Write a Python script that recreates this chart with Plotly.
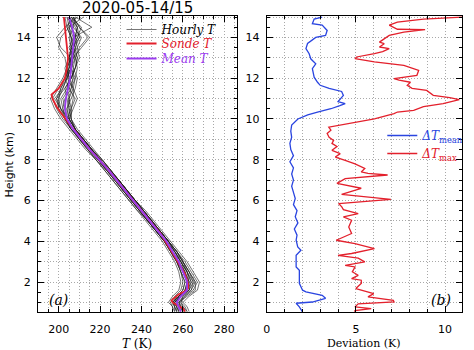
import plotly.graph_objects as go

# ---------------- data: panel (a) ----------------
heights = [0.55, 0.8, 1.0, 1.3, 1.6, 2.0, 2.5, 3.0, 3.5, 4.0, 4.5, 5.0, 5.5, 6.0, 6.5, 7.0,
           7.5, 8.0, 8.5, 9.0, 9.5, 10.0, 10.5, 11.0, 11.5, 12.0, 12.5, 13.0, 13.5, 14.0, 14.5, 15.0]

hourly_01 = [257,256,255,258,263,265,263,260,257,253,249,245,241,237,233,229,225,220,216,212,208,205,201,199,203,206,208,209,207,210,209,207]
hourly_02 = [260,259,258,261,265,267,264,261,257,253,249,245,240,236,232,228,224,220,215,211,208,206,206,207,207,204,203,205,206,206,204,203]
hourly_03 = [256,255,254,256,259,260,259,257,254,251,247,243,239,235,231,227,223,219,214,210,206,202,199,197,200,203,205,207,211,215,210,207]
hourly_04 = [262,261,259,260,263,264,262,259,256,252,248,244,240,236,233,229,225,221,216,212,208,205,204,205,206,208,209,208,206,205,207,208]
hourly_05 = [258,257,256,257,260,261,259,257,254,251,247,243,239,235,231,228,224,219,215,210,206,203,200,200,202,204,205,205,207,209,211,206]
hourly_06 = [261,260,258,262,266,266,263,260,256,253,249,245,241,237,233,229,224,220,216,212,208,205,207,209,207,205,204,206,208,207,205,204]
hourly_07 = [255,255,253,255,258,259,258,256,253,250,246,242,238,234,230,226,222,218,213,209,205,201,198,196,199,202,204,206,201,199,203,209]
hourly_08 = [259,258,257,259,262,263,261,258,255,252,248,244,240,236,232,228,224,219,215,211,207,204,203,202,205,207,207,208,210,214,210,207]
hourly_09 = [263,262,260,263,267,268,265,262,258,254,250,246,242,237,233,229,225,221,217,213,209,206,205,204,203,206,208,210,209,208,206,205]
hourly_10 = [257,256,256,259,262,262,260,257,254,251,247,243,238,234,230,226,222,218,214,210,206,203,202,201,204,205,204,203,200,201,205,212]
hourly_11 = [260,258,257,258,261,262,261,259,256,253,249,244,240,236,232,228,223,219,215,211,207,204,204,206,208,209,207,205,206,208,209,206]
hourly_12 = [258,257,255,258,262,264,262,259,255,252,248,244,240,236,232,228,224,220,215,211,207,203,201,200,201,203,206,207,208,210,208,205]
hourly_13 = [261,259,258,260,264,265,262,259,256,252,248,245,241,237,232,228,224,220,216,212,207,204,206,208,205,203,205,206,207,206,205,207]
hourly_14 = [256,256,255,257,260,261,259,257,254,251,247,243,239,235,231,227,223,218,214,210,207,204,201,198,202,204,206,207,205,207,216,208]
hourly_15 = [258,258,256,259,263,263,261,258,255,252,248,244,240,236,232,228,224,220,216,211,207,204,202,203,206,207,206,206,209,211,207,204]
hourly_16 = [260,259,257,258,261,263,262,260,257,253,249,245,241,237,233,229,225,221,216,212,208,205,205,205,204,206,208,209,208,206,204,206]
hourly_17 = [257,257,256,258,261,262,260,258,255,251,247,243,239,235,231,227,223,219,215,211,206,203,200,199,201,204,206,208,206,208,209,205]
hourly_18 = [262,260,259,261,264,266,263,260,257,253,249,245,241,237,233,229,224,220,216,212,208,206,206,205,207,208,206,205,207,209,206,205]

hourly_profiles = [hourly_01, hourly_02, hourly_03, hourly_04, hourly_05, hourly_06,
                   hourly_07, hourly_08, hourly_09, hourly_10, hourly_11, hourly_12,
                   hourly_13, hourly_14, hourly_15, hourly_16, hourly_17, hourly_18]

mean_T = [259.0,258.0,257.0,259.0,262.0,262.0,260.0,258.0,255.0,252.0,248.0,244.0,240.0,236.0,232.0,228.0,
          224.0,219.5,215.0,211.0,207.0,204.0,203.0,203.5,204.5,205.5,206.0,206.5,207.0,207.5,206.5,205.0]

sonde_h = [0.55,0.7,0.85,1.0,1.1,1.25,1.4,1.55,1.7,1.9,2.1,2.4,2.75,3.2,3.6,4.0,4.4,5.0,5.5,6.0,6.5,7.0,
           7.5,8.0,8.5,9.0,9.5,10.0,10.3,10.6,10.8,11.0,11.2,11.5,12.0,12.5,13.0,13.5,14.0,14.5,15.0]
sonde_T = [261,260,257.5,255,254.5,256,258,261,262.5,262.5,262,261,259,256.5,254,251.5,249,244,240,236,232,228,
           224,219.5,215,211,207,203,201,199,198,197,196.5,200,203,204,204.5,204,203.5,203,202.5]

# ---------------- data: panel (b) ----------------
dmean_h = [0.53,0.78,0.96,1.02,1.2,1.35,1.52,1.6,1.94,2.58,2.74,3.31,3.56,3.72,4.05,4.3,4.6,4.9,5.2,5.5,
           5.8,6.1,6.4,6.7,7.0,7.3,7.6,7.9,8.2,8.5,8.8,9.1,9.4,9.7,10.0,10.2,10.35,10.5,10.65,10.75,
           10.85,10.95,11.15,11.35,11.5,11.65,11.8,12.05,12.47,12.7,12.95,13.2,13.45,13.7,14.0,14.1,
           14.34,14.6,14.67,14.9,15.0]
dmean_v = [2.01,1.83,1.65,2.56,3.3,3.11,2.2,2.01,1.83,1.83,1.65,1.65,1.92,1.74,1.65,1.7,1.55,1.75,1.6,1.7,
           1.5,1.6,1.5,1.4,1.5,1.4,1.5,1.3,1.5,1.35,1.3,1.4,1.35,1.4,1.75,2.3,2.9,3.6,4.1,4.4,
           4.0,4.1,4.3,4.2,3.5,3.0,2.85,2.66,2.56,2.75,2.47,2.38,2.2,2.29,2.75,3.3,
           3.39,3.11,2.56,2.66,3.11]

dmax_h = [0.53,0.6,0.7,0.78,0.93,1.02,1.1,1.27,1.43,1.68,1.94,2.09,2.17,2.33,2.5,2.74,2.82,2.99,3.17,3.31,
          3.4,3.64,3.88,4.05,4.38,4.7,5.03,5.2,5.36,5.55,5.69,5.85,6.05,6.3,6.6,6.84,7.07,7.15,7.25,7.33,
          7.4,7.57,7.8,7.97,8.13,8.3,8.46,8.65,8.8,8.95,9.1,9.29,9.45,9.6,9.77,9.93,10.0,10.26,10.34,10.42,
          10.6,10.75,10.95,11.05,11.16,11.4,11.5,11.65,11.8,11.9,11.98,12.14,12.38,12.63,12.8,12.96,13.04,
          13.2,13.3,13.45,13.53,13.69,13.77,14.1,14.26,14.38,14.4,14.6,14.75,14.9,15.0]
dmax_v = [4.95,4.95,5.86,4.95,5.13,7.14,7.1,5.68,6.0,5.0,5.31,5.3,4.76,5.13,4.8,4.95,4.4,5.5,5.13,4.0,
          4.76,6.04,4.95,3.9,4.76,4.6,4.76,4.3,5.13,4.3,4.21,4.03,6.96,4.2,5.3,3.94,4.4,5.5,6.78,5.68,
          5.3,5.5,4.95,4.4,3.85,4.12,3.66,3.94,3.66,3.75,3.5,3.39,3.6,3.48,4.58,5.5,6.04,7.14,7.33,8.24,
          8.79,9.89,10.8,10.26,9.34,8.97,8.15,7.88,8.06,7.42,7.14,8.42,8.52,7.69,6.04,4.95,5.04,
          6.04,6.5,6.87,6.32,6.59,6.32,6.87,7.69,8.88,7.33,6.87,7.33,8.79,11.0]

# ---------------- styling ----------------
RED = "#e3202c"
PURPLE = "#9b3cf0"
BLUE = "#2a45e0"
GRID = "#a8a8a8"
GDASH = "1px,2px"
TICKFONT = dict(family="DejaVu Sans", size=11, color="black")
SERIF = "DejaVu Serif"

fig = go.Figure()

for i, prof in enumerate(hourly_profiles):
    fig.add_trace(go.Scatter(
        x=prof, y=heights, mode="lines", line=dict(color="#1a1a1a", width=0.6),
        name="<i>Hourly T</i>", legendgroup="hourly", showlegend=(i == 0),
        legend="legend", xaxis="x", yaxis="y", hoverinfo="skip"))

fig.add_trace(go.Scatter(
    x=sonde_T, y=sonde_h, mode="lines", line=dict(color=RED, width=1.8),
    name='<span style="color:%s"><i>Sonde T</i></span>' % RED,
    legend="legend3", xaxis="x", yaxis="y"))
fig.add_trace(go.Scatter(
    x=mean_T, y=heights, mode="lines", line=dict(color=PURPLE, width=1.8),
    name='<span style="color:%s"><i>Mean T</i></span>' % PURPLE,
    legend="legend4", xaxis="x", yaxis="y"))

fig.add_trace(go.Scatter(
    x=dmean_v, y=dmean_h, mode="lines", line=dict(color=BLUE, width=1.3),
    name='<span style="color:%s"><i>ΔT</i><sub>mean</sub></span>' % BLUE,
    legend="legend2", xaxis="x2", yaxis="y2"))
fig.add_trace(go.Scatter(
    x=dmax_v, y=dmax_h, mode="lines", line=dict(color=RED, width=1.3),
    name='<span style="color:%s"><i>ΔT</i><sub>max</sub></span>' % RED,
    legend="legend5", xaxis="x2", yaxis="y2"))

# empty helper traces so the grid-only overlay axes exist
fig.add_trace(go.Scatter(x=[None], y=[None], xaxis="x", yaxis="y3", showlegend=False, hoverinfo="skip"))
fig.add_trace(go.Scatter(x=[None], y=[None], xaxis="x2", yaxis="y4", showlegend=False, hoverinfo="skip"))

YR = [0.53, 15.05]
dom_a = [0.0, 0.4687]
dom_b = [0.5394, 1.0]

common_x = dict(showline=True, linecolor="black", linewidth=1, mirror="ticks",
                ticks="inside", ticklen=6, tickcolor="black", tickfont=TICKFONT,
                showgrid=True, gridcolor=GRID, griddash=GDASH, gridwidth=1,
                zeroline=False, ticklabelstandoff=7)
common_y = dict(showline=True, linecolor="black", linewidth=1, mirror="ticks",
                ticks="inside", ticklen=6, tickcolor="black", tickfont=TICKFONT,
                showgrid=False, zeroline=False, range=YR, tick0=0, dtick=2,
                minor=dict(dtick=0.5, ticklen=3, tickcolor="black", ticks="inside", showgrid=False),
                ticklabelstandoff=4)
grid_y = dict(range=YR, tick0=0, dtick=1, showgrid=True, gridcolor=GRID, griddash=GDASH,
              gridwidth=1, showticklabels=False, ticks="", showline=False, zeroline=False)

leg_common = dict(xanchor="left", yanchor="top", bgcolor="rgba(0,0,0,0)",
                  font=dict(family=SERIF, size=12, color="black"), itemwidth=30, tracegroupgap=0)

fig.update_layout(
    width=474, height=350,
    margin=dict(l=38, r=5, t=16, b=38),
    paper_bgcolor="white", plot_bgcolor="white",
    showlegend=True,
    xaxis=dict(domain=dom_a, anchor="y", range=[190, 286], tick0=200, dtick=20,
               minor=dict(dtick=5, tick0=200, ticklen=3, tickcolor="black", ticks="inside",
                          showgrid=True, gridcolor=GRID, griddash=GDASH, gridwidth=1),
               **common_x),
    yaxis=dict(domain=[0, 1], anchor="x", **common_y),
    yaxis3=dict(overlaying="y", anchor="x", **grid_y),
    xaxis2=dict(domain=dom_b, anchor="y2", range=[0, 10.95], tick0=0, dtick=5,
                minor=dict(dtick=1, tick0=0, ticklen=3, tickcolor="black", ticks="inside",
                           showgrid=True, gridcolor=GRID, griddash=GDASH, gridwidth=1),
                **common_x),
    yaxis2=dict(domain=[0, 1], anchor="x2", **common_y),
    yaxis4=dict(overlaying="y2", anchor="x2", **grid_y),
    legend=dict(x=0.197, y=1.0034, **leg_common),
    legend3=dict(x=0.197, y=0.9561, **leg_common),
    legend4=dict(x=0.197, y=0.9054, **leg_common),
    legend2=dict(x=0.812, y=0.6453, **leg_common),
    legend5=dict(x=0.812, y=0.5845, **leg_common),
)

fig.add_annotation(text="2020-05-14/15", xref="x domain", yref="paper", x=0.5, y=1.027,
                   xanchor="center", yanchor="middle", showarrow=False,
                   font=dict(family="DejaVu Sans", size=15, color="black"))
fig.add_annotation(text="Height (km)", xref="paper", yref="paper", x=-0.0673, y=0.5,
                   textangle=-90, xanchor="center", yanchor="middle", showarrow=False,
                   font=dict(family="DejaVu Sans", size=11, color="black"))
fig.add_annotation(text="<i>T</i> (K)", xref="x domain", yref="paper", x=0.5, y=-0.109,
                   xanchor="center", yanchor="middle", showarrow=False,
                   font=dict(family=SERIF, size=12, color="black"))
fig.add_annotation(text="Deviation (K)", xref="x2 domain", yref="paper", x=0.5, y=-0.107,
                   xanchor="center", yanchor="middle", showarrow=False,
                   font=dict(family=SERIF, size=11, color="black"))
fig.add_annotation(text="<i>(a)</i>", xref="x domain", yref="paper", x=0.045, y=0.04,
                   xanchor="left", yanchor="middle", showarrow=False,
                   font=dict(family=SERIF, size=14, color="black"))
fig.add_annotation(text="<i>(b)</i>", xref="x2 domain", yref="paper", x=0.955, y=0.04,
                   xanchor="right", yanchor="middle", showarrow=False,
                   font=dict(family=SERIF, size=14, color="black"))

fig.write_html("out.html")
